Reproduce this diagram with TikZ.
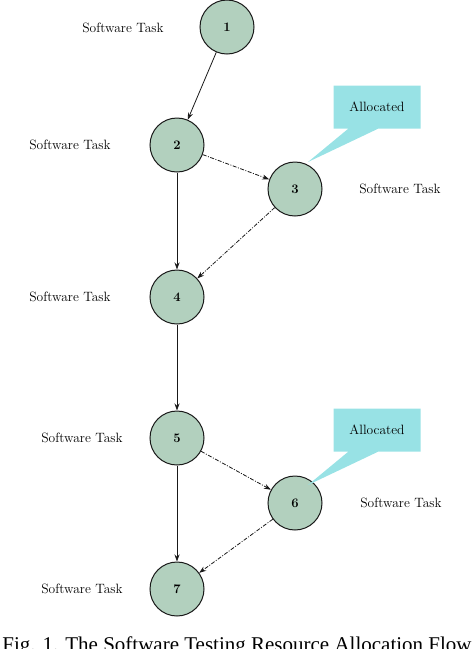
\documentclass[tikz,border=0pt]{standalone}
\usepackage{fontspec}
\newfontfamily\capfont{Liberation Serif}
\usetikzlibrary{arrows.meta,shapes.callouts}
\definecolor{nodegreen}{RGB}{178,208,190}
\definecolor{calloutcyan}{RGB}{152,226,229}
\begin{document}
\begin{tikzpicture}[x=1pt,y=-1pt,
  task/.style={circle,draw=black!90,line width=1pt,fill=nodegreen,minimum size=54pt,inner sep=0pt,font=\fontsize{13}{15}\selectfont\bfseries},
  lbl/.style={font=\fontsize{13.5}{16}\selectfont},
  solidarrow/.style={-{Stealth[length=7pt,width=5pt]},line width=0.8pt,black!90},
  dasharrow/.style={-{Stealth[length=7pt,width=5pt]},line width=0.8pt,black!90,dash pattern=on 4pt off 1.5pt on 1pt off 1.5pt},
  alloc/.style={rectangle callout,fill=calloutcyan,minimum width=87pt,minimum height=43pt,callout pointer width=30pt,font=\fontsize{13.5}{16}\selectfont}
]
\useasboundingbox (0,0) rectangle (474,649);
\clip (0,0) rectangle (474,649);
\node[task] (n1) at (227,27) {1};
\node[task] (n2) at (177,145) {2};
\node[task] (n3) at (295,189) {3};
\node[task] (n4) at (177,297) {4};
\node[task] (n5) at (177,438) {5};
\node[task] (n6) at (295,503) {6};
\node[task] (n7) at (177,589) {7};

\node[lbl] (l1) at (123,28) {Software Task};
\node[lbl] (l2) at (70,145) {Software Task};
\node[lbl] (l3) at (400,189) {Software Task};
\node[lbl] (l4) at (70,297) {Software Task};
\node[lbl] (l5) at (82,438) {Software Task};
\node[lbl] (l6) at (401,503) {Software Task};
\node[lbl] (l7) at (82,589) {Software Task};

\node[alloc,callout absolute pointer={(308,162)}] (a1) at (377,107) {Allocated};
\node[alloc,callout absolute pointer={(308,485)}] (a2) at (377,430) {Allocated};

\draw[solidarrow] (n1) -- (n2);
\draw[solidarrow] (n2) -- (n4);
\draw[solidarrow] (n4) -- (n5);
\draw[solidarrow] (n5) -- (n7);
\draw[dasharrow] (n2) -- (n3);
\draw[dasharrow] (n3) -- (n4);
\draw[dasharrow] (n5) -- (n6);
\draw[dasharrow] (n6) -- (n7);

\node[font=\capfont\fontsize{21}{24}\selectfont,anchor=base,inner sep=0pt] (cap) at (237,651) {Fig. 1. The Software Testing Resource Allocation Flow};
\end{tikzpicture}
\end{document}
